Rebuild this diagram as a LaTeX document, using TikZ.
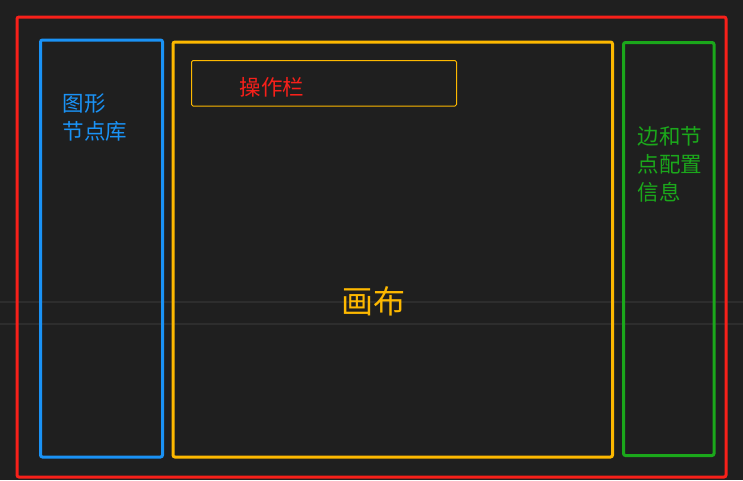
\documentclass[tikz,border=0pt]{standalone}
\usepackage{fontspec}
\usepackage{tikz}
\newfontfamily\cjk{Noto Sans CJK SC}
\definecolor{bg}{HTML}{1F1F1F}
\definecolor{ruler}{HTML}{2D2D2D}
\definecolor{outerred}{HTML}{F8201A}
\definecolor{libblue}{HTML}{1A92F5}
\definecolor{canvasyellow}{HTML}{FDB800}
\definecolor{cfggreen}{HTML}{1BA81B}
\tikzstyle{box}=[draw,rectangle,rounded corners=2pt,line width=3pt,inner sep=0pt]
\tikzstyle{thinbox}=[draw,rectangle,rounded corners=1.5pt,line width=1pt,inner sep=0pt]
\tikzstyle{boxtext}=[font=\cjk\fontsize{21.5}{28}\selectfont,align=left,inner sep=0pt]

\begin{document}
\begin{tikzpicture}[x=1pt,y=-1pt]
    % Background and the two faint rulers
    \fill[bg] (0,0) rectangle (743,480);
    \useasboundingbox (0,0) rectangle (743,480);
    \foreach \y in {302,324}
        \draw[ruler,line width=2pt] (0,\y) -- (743,\y);
    % First we draw the boxes
    \foreach \pos/\w/\h/\col/\name in {{(371.5,247)/709/460/outerred/page}, {(101.5,248.5)/122/417/libblue/library}, {(392.75,249.5)/439.5/415/canvasyellow/canvas}, {(668.75,249)/90.5/413/cfggreen/config}}
        \node[box,draw=\col,minimum width=\w pt,minimum height=\h pt] (\name) at \pos {};
    \node[thinbox,draw=canvasyellow,minimum width=265pt,minimum height=45.5pt] (toolbar) at (324,83.25) {};
    % Then the texts inside them
    \node[boxtext,text=libblue,anchor=west] (librarytext) at (62.5,117.5) {图形\\节点库};
    \node[boxtext,text=outerred] (toolbartext) at (272,87) {操作栏};
    \node[boxtext,text=canvasyellow,font=\cjk\fontsize{32}{36}\selectfont] (canvastext) at (373,301) {画布};
    \node[boxtext,text=cfggreen,anchor=west] (configtext) at (637.5,164) {边和节\\点配置\\信息};
\end{tikzpicture}
\end{document}
